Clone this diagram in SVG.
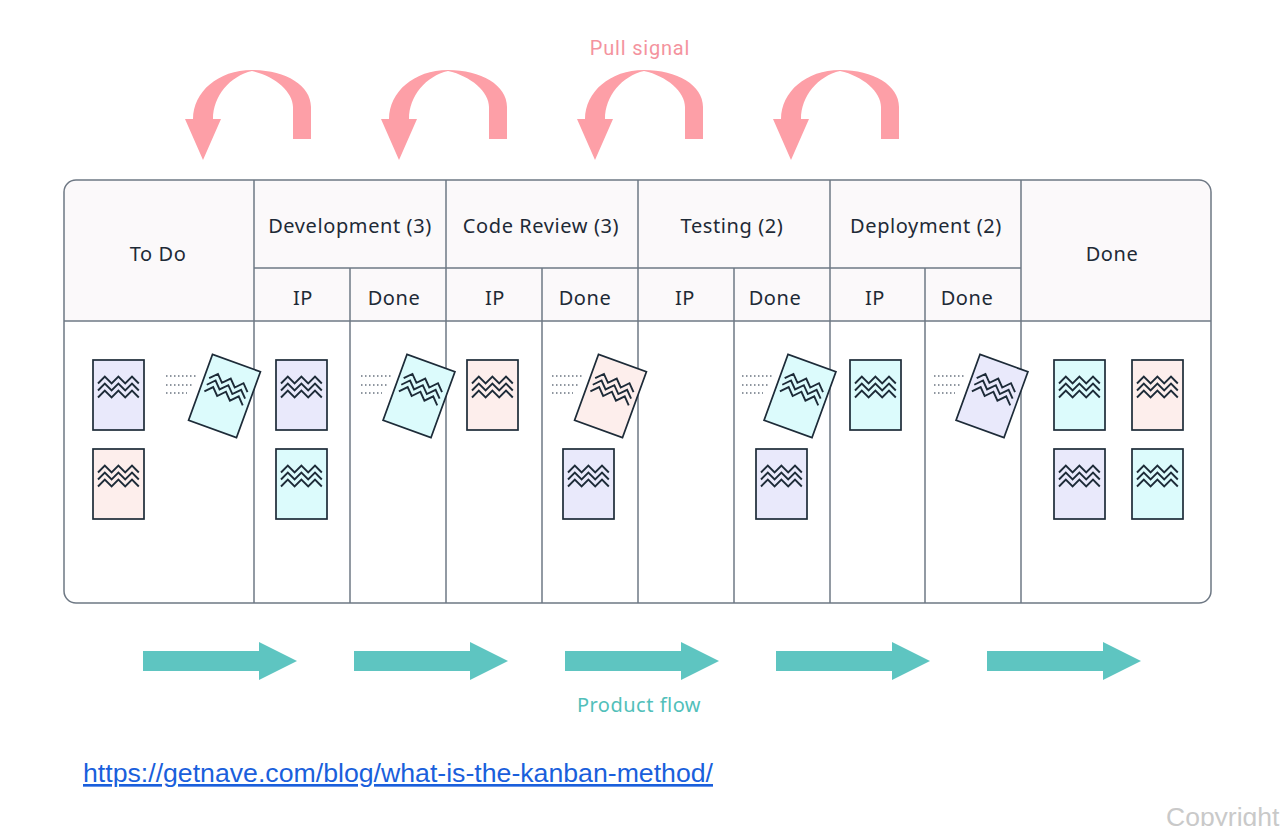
<svg xmlns="http://www.w3.org/2000/svg" xmlns:xlink="http://www.w3.org/1999/xlink" width="1280" height="826" viewBox="0 0 1280 826">
<style>
.hdr{font-family:"Noto Sans","Open Sans",sans-serif;font-size:20px;fill:#1e2a36;text-anchor:middle;letter-spacing:0.6px}
.grid{stroke:#6e7884;stroke-width:1.5;fill:none}
.dots{stroke:#6a7480;stroke-width:1.4;stroke-dasharray:1.5 2.5;fill:none}
.pull{fill:#fd9fa7}
.flow{fill:#5ec5c1}
</style>
<defs>
<g id="card">
<rect x="0" y="0" width="51" height="70" stroke="#1d2b38" stroke-width="1.7"/>
<path d="M5 23.5 L11.8 16.5 L18.6 23.5 L25.4 16.5 L32.2 23.5 L39 16.5 L45.8 23.5 M5 30.5 L11.8 23.5 L18.6 30.5 L25.4 23.5 L32.2 30.5 L39 23.5 L45.8 30.5 M5 37.5 L11.8 30.5 L18.6 37.5 L25.4 30.5 L32.2 37.5 L39 30.5 L45.8 37.5" fill="none" stroke="#1d2b38" stroke-width="1.9"/>
</g>
<path id="pullArrow" d="M311 139 L311 107 C311 85 285 70 252 70 C218 70 193 92 193 119 L185 119 L203 160 L221 119 L213 119 C213 96 230 76 252 71 C275 76 293 92 293 107 L293 139 Z"/>
<path id="flowArrow" d="M0 651 L116 651 L116 642 L154 661 L116 680 L116 671 L0 671 Z"/>
</defs>
<rect width="1280" height="826" fill="#ffffff"/>

<text x="640" y="55" font-family="Roboto,'Noto Sans',sans-serif" font-size="20" fill="#f4939e" text-anchor="middle" letter-spacing="0.8">Pull signal</text>

<g id="board">
<path d="M64 321 L64 192 Q64 180 76 180 L1199 180 Q1211 180 1211 192 L1211 321 Z" fill="#fbf9fa"/>
<rect x="64" y="180" width="1147" height="423" rx="12" class="grid"/>
<line x1="64" y1="321" x2="1211" y2="321" class="grid"/>
<line x1="254" y1="268" x2="1021" y2="268" class="grid"/>
<line x1="254" y1="180" x2="254" y2="603" class="grid"/>
<line x1="446" y1="180" x2="446" y2="603" class="grid"/>
<line x1="638" y1="180" x2="638" y2="603" class="grid"/>
<line x1="830" y1="180" x2="830" y2="603" class="grid"/>
<line x1="1021" y1="180" x2="1021" y2="603" class="grid"/>
<line x1="350" y1="268" x2="350" y2="603" class="grid"/>
<line x1="542" y1="268" x2="542" y2="603" class="grid"/>
<line x1="734" y1="268" x2="734" y2="603" class="grid"/>
<line x1="925" y1="268" x2="925" y2="603" class="grid"/>
</g>

<g id="col-todo">
<text class="hdr" x="158" y="261">To Do</text>
<use xlink:href="#card" href="#card" x="93" y="360" fill="#e9e9fb"/>
<use xlink:href="#card" href="#card" x="93" y="449" fill="#fdeeec"/>
</g>
<g id="col-development">
<text class="hdr" x="350" y="233">Development (3)</text>
<text class="hdr" x="303" y="305">IP</text>
<text class="hdr" x="394" y="305">Done</text>
<use xlink:href="#card" href="#card" x="276" y="360" fill="#e9e9fb"/>
<use xlink:href="#card" href="#card" x="276" y="449" fill="#dcfbfc"/>
</g>
<g id="col-codereview">
<text class="hdr" x="541" y="233">Code Review (3)</text>
<text class="hdr" x="495" y="305">IP</text>
<text class="hdr" x="585" y="305">Done</text>
<use xlink:href="#card" href="#card" x="467" y="360" fill="#fdeeec"/>
<use xlink:href="#card" href="#card" x="563" y="449" fill="#e9e9fb"/>
</g>
<g id="col-testing">
<text class="hdr" x="732" y="233">Testing (2)</text>
<text class="hdr" x="685" y="305">IP</text>
<text class="hdr" x="775" y="305">Done</text>
<use xlink:href="#card" href="#card" x="756" y="449" fill="#e9e9fb"/>
</g>
<g id="col-deployment">
<text class="hdr" x="926" y="233">Deployment (2)</text>
<text class="hdr" x="875" y="305">IP</text>
<text class="hdr" x="967" y="305">Done</text>
<use xlink:href="#card" href="#card" x="850" y="360" fill="#dcfbfc"/>
</g>
<g id="col-done">
<text class="hdr" x="1112" y="261">Done</text>
<use xlink:href="#card" href="#card" x="1054" y="360" fill="#dcfbfc"/>
<use xlink:href="#card" href="#card" x="1132" y="360" fill="#fdeeec"/>
<use xlink:href="#card" href="#card" x="1054" y="449" fill="#e9e9fb"/>
<use xlink:href="#card" href="#card" x="1132" y="449" fill="#dcfbfc"/>
</g>

<g id="moving-cards">
<g id="move1">
<path class="dots" d="M166 376 H198 M166 385 H193 M166 393 H187"/>
<use xlink:href="#card" href="#card" fill="#dcfbfc" transform="translate(224.5 396) rotate(20) translate(-25.5 -35)"/>
</g>
<g id="move2">
<path class="dots" d="M361 376 H393 M361 385 H388 M361 393 H382"/>
<use xlink:href="#card" href="#card" fill="#dcfbfc" transform="translate(419 396) rotate(20) translate(-25.5 -35)"/>
</g>
<g id="move3">
<path class="dots" d="M552 376 H584 M552 385 H579 M552 393 H573"/>
<use xlink:href="#card" href="#card" fill="#fdeeec" transform="translate(610.5 396) rotate(20) translate(-25.5 -35)"/>
</g>
<g id="move4">
<path class="dots" d="M742 376 H774 M742 385 H769 M742 393 H763"/>
<use xlink:href="#card" href="#card" fill="#dcfbfc" transform="translate(800 396) rotate(20) translate(-25.5 -35)"/>
</g>
<g id="move5">
<path class="dots" d="M934 376 H966 M934 385 H961 M934 393 H955"/>
<use xlink:href="#card" href="#card" fill="#e9e9fb" transform="translate(992 396) rotate(20) translate(-25.5 -35)"/>
</g>
</g>

<g id="connectors">
<use xlink:href="#pullArrow" href="#pullArrow" class="pull"/>
<use xlink:href="#pullArrow" href="#pullArrow" class="pull" x="196"/>
<use xlink:href="#pullArrow" href="#pullArrow" class="pull" x="392"/>
<use xlink:href="#pullArrow" href="#pullArrow" class="pull" x="588"/>
<use xlink:href="#flowArrow" href="#flowArrow" class="flow" x="143"/>
<use xlink:href="#flowArrow" href="#flowArrow" class="flow" x="354"/>
<use xlink:href="#flowArrow" href="#flowArrow" class="flow" x="565"/>
<use xlink:href="#flowArrow" href="#flowArrow" class="flow" x="776"/>
<use xlink:href="#flowArrow" href="#flowArrow" class="flow" x="987"/>
</g>

<text x="639" y="712" font-family="'Noto Sans','Open Sans',sans-serif" font-size="20" fill="#52bfba" text-anchor="middle" letter-spacing="0.5">Product flow</text>

<text x="83" y="782" font-family="'Liberation Sans',Arial,sans-serif" font-size="26.6" fill="#1a5fdc" text-decoration="underline" textLength="630" lengthAdjust="spacingAndGlyphs">https://getnave.com/blog/what-is-the-kanban-method/</text>

<text x="1166" y="826" font-family="'Liberation Sans',Arial,sans-serif" font-size="26.5" fill="#c9c9c9">Copyright</text>
</svg>
